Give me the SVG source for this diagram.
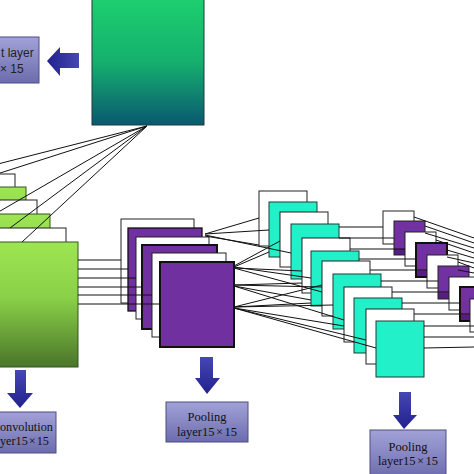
<svg xmlns="http://www.w3.org/2000/svg" width="474" height="474" viewBox="0 0 474 474">
<defs>
<linearGradient id="gTop" x1="0" y1="0" x2="0" y2="1"><stop offset="0" stop-color="#1dcf6f"/><stop offset="0.5" stop-color="#15b06e"/><stop offset="1" stop-color="#0a5870"/></linearGradient>
<linearGradient id="gGreen" x1="0" y1="0" x2="0" y2="1"><stop offset="0" stop-color="#9ee552"/><stop offset="0.45" stop-color="#8ad048"/><stop offset="1" stop-color="#4a752a"/></linearGradient>
<linearGradient id="gBox" x1="0" y1="0" x2="0" y2="1"><stop offset="0" stop-color="#a2a2d8"/><stop offset="1" stop-color="#6c6cae"/></linearGradient>
<linearGradient id="gArrow" x1="0" y1="0" x2="0" y2="1"><stop offset="0" stop-color="#4646b4"/><stop offset="1" stop-color="#22228e"/></linearGradient>
<linearGradient id="gArrowH" x1="0" y1="0" x2="1" y2="0"><stop offset="0" stop-color="#22228e"/><stop offset="1" stop-color="#4646b4"/></linearGradient>
<linearGradient id="gPur" x1="0" y1="0" x2="0" y2="1"><stop offset="0" stop-color="#7232a2"/><stop offset="0.8" stop-color="#7030a0"/><stop offset="0.84" stop-color="#561e84"/><stop offset="1" stop-color="#561e84"/></linearGradient>
</defs>
<style>
.w{fill:#ffffff;stroke:#222;stroke-width:1}
.p{fill:#7030a0;stroke:#111;stroke-width:1.3}
.pb{fill:#7030a0;stroke:#111;stroke-width:2}
.pr{fill:url(#gPur);stroke:#222;stroke-width:1}
.prb{fill:url(#gPur);stroke:#111;stroke-width:2}
.c{fill:#22f0c8;stroke:#1c3c34;stroke-width:1}
.g{fill:url(#gGreen);stroke:#35521f;stroke-width:1}
.box{fill:url(#gBox);stroke:#4c4c88;stroke-width:1}
.arr{fill:url(#gArrow)}
.ln{stroke:#111;stroke-width:1;fill:none}
.ts{font-family:"Times New Roman","Liberation Serif",serif;font-size:12.5px;fill:#111;text-anchor:middle}
.tl{font-family:"Times New Roman","Liberation Serif",serif;font-size:12.2px;fill:#111}
.ta{font-family:"Liberation Sans",Arial,sans-serif;font-size:12px;fill:#222}
</style>
<rect width="474" height="474" fill="#ffffff"/>

<g id="output-layer">
<rect x="92" y="-2" width="112" height="127" fill="url(#gTop)" stroke="#1e3a3a" stroke-width="1"/>
</g>

<g id="output-label">
<rect class="box" x="-40" y="37" width="79" height="46"/>
<text class="ta" x="1" y="57">t layer</text>
<text class="ta" x="0" y="73">× 15</text>
<polygon points="47,61 60,47 60,53 79,53 79,68 60,68 60,76" fill="url(#gArrowH)"/>
</g>

<g id="conv-stack">
<rect class="w" x="-60" y="174" width="75" height="125"/>
<rect class="g" x="-60" y="187" width="86" height="125"/>
<rect class="w" x="-60" y="200" width="97" height="125"/>
<rect class="g" x="-60" y="214" width="110" height="125"/>
<rect class="w" x="-60" y="228" width="126" height="125"/>
<rect class="g" x="-60" y="242" width="138" height="125"/>
</g>

<g id="pool1-stack">
<rect class="w" x="121" y="219" width="73" height="84"/>
<rect class="p" x="128" y="228" width="74" height="83"/>
<rect class="w" x="136" y="237" width="73" height="82"/>
<rect class="pb" x="142" y="245" width="75" height="84"/>
<rect class="w" x="152" y="253" width="74" height="84"/>
<rect class="pb" x="160" y="262" width="74" height="85"/>
</g>

<g id="conv2-stack">
<rect class="w" x="259" y="191" width="48" height="55"/>
<rect class="c" x="269" y="202" width="48" height="55"/>
<rect class="w" x="280" y="212" width="48" height="55"/>
<rect class="c" x="291" y="224" width="48" height="55"/>
<rect class="w" x="302" y="238" width="48" height="55"/>
<rect class="c" x="311" y="251" width="48" height="55"/>
<rect class="w" x="322" y="261" width="48" height="55"/>
<rect class="c" x="333" y="274" width="48" height="55"/>
<rect class="w" x="344" y="287" width="48" height="55"/>
<rect class="c" x="354" y="298" width="48" height="55"/>
<rect class="w" x="366" y="309" width="48" height="55"/>
<rect class="c" x="376" y="321" width="48" height="56"/>
</g>

<g id="pool2-stack">
<rect class="w" x="383" y="211" width="31" height="33"/>
<rect class="pr" x="394" y="221" width="31" height="34"/>
<rect class="w" x="405" y="232" width="31" height="34"/>
<rect class="prb" x="416" y="243" width="31" height="34"/>
<rect class="w" x="427" y="255" width="31" height="33"/>
<rect class="pr" x="438" y="266" width="31" height="33"/>
<rect class="w" x="449" y="277" width="31" height="33"/>
<rect class="prb" x="460" y="287" width="31" height="34"/>
<rect class="w" x="470" y="299" width="31" height="33"/>
</g>

<g id="connectors" class="ln">
<line x1="147" y1="126" x2="-10" y2="166"/>
<line x1="147" y1="126" x2="-3" y2="174"/>
<line x1="147" y1="126" x2="-5" y2="214"/>
<line x1="147" y1="126" x2="10" y2="228"/>
<line x1="147" y1="126" x2="22" y2="242"/>

<line x1="78" y1="260" x2="121" y2="260"/>
<line x1="78" y1="269" x2="128" y2="269"/>
<line x1="78" y1="278" x2="136" y2="278"/>
<line x1="78" y1="287" x2="142" y2="287"/>
<line x1="78" y1="295" x2="152" y2="295"/>
<line x1="78" y1="304" x2="160" y2="304"/>

<line x1="205" y1="234" x2="259" y2="218"/>
<line x1="205" y1="234" x2="269" y2="230"/>
<line x1="205" y1="235" x2="291" y2="253"/>
<line x1="205" y1="236" x2="259" y2="245"/>
<line x1="234" y1="266" x2="280" y2="241"/>
<line x1="234" y1="267" x2="269" y2="252"/>
<line x1="234" y1="267" x2="311" y2="278"/>
<line x1="234" y1="268" x2="322" y2="292"/>
<line x1="234" y1="268" x2="302" y2="271"/>
<line x1="234" y1="285" x2="302" y2="283"/>
<line x1="234" y1="285" x2="322" y2="287"/>
<line x1="234" y1="286" x2="311" y2="300"/>
<line x1="234" y1="286" x2="344" y2="320"/>
<line x1="234" y1="307" x2="322" y2="285"/>
<line x1="234" y1="307" x2="311" y2="303"/>
<line x1="234" y1="307" x2="333" y2="305"/>
<line x1="234" y1="308" x2="344" y2="326"/>
<line x1="234" y1="308" x2="366" y2="340"/>
<line x1="234" y1="308" x2="376" y2="348"/>

<line x1="339" y1="227" x2="383" y2="227"/>
<line x1="339" y1="238" x2="394" y2="238"/>
<line x1="350" y1="249" x2="405" y2="249"/>
<line x1="359" y1="259" x2="416" y2="259"/>
<line x1="370" y1="270" x2="427" y2="270"/>
<line x1="381" y1="281" x2="438" y2="281"/>
<line x1="392" y1="292" x2="449" y2="292"/>
<line x1="402" y1="303" x2="460" y2="303"/>
<line x1="414" y1="314" x2="470" y2="314"/>
<line x1="424" y1="326" x2="474" y2="326"/>
<line x1="424" y1="337" x2="474" y2="337"/>
<line x1="424" y1="348" x2="474" y2="347"/>

<line x1="414" y1="217" x2="474" y2="238"/>
<line x1="425" y1="226" x2="474" y2="243"/>
<line x1="425" y1="233" x2="474" y2="248"/>
<line x1="436" y1="240" x2="474" y2="253"/>
<line x1="447" y1="250" x2="474" y2="258"/>
<line x1="447" y1="257" x2="474" y2="263"/>
<line x1="458" y1="262" x2="474" y2="268"/>
<line x1="458" y1="270" x2="474" y2="273"/>
</g>

<g id="conv-label">
<polygon class="arr" points="15,370 26,370 26,393 33,393 20,408 7,393 15,393"/>
<rect class="box" x="-14" y="412" width="70" height="41"/>
<text class="tl" x="0" y="431">onvolution</text>
<text class="tl" x="0" y="445">yer15<tspan dx="1">×</tspan><tspan dx="1">15</tspan></text>
</g>

<g id="pool1-label">
<polygon class="arr" points="200,357 213,357 213,378 220,378 207,394 195,378 200,378"/>
<rect class="box" x="166" y="402" width="82" height="40"/>
<text class="ts" x="207" y="421">Pooling</text>
<text class="ts" x="207" y="436">layer15<tspan dx="1.5">×</tspan><tspan dx="1.5">15</tspan></text>
</g>

<g id="pool2-label">
<polygon class="arr" points="399,392 411,392 411,415 417,415 404,429 393,415 399,415"/>
<rect class="box" x="370" y="430" width="76" height="48"/>
<text class="ts" x="408" y="451">Pooling</text>
<text class="ts" x="408" y="465">layer15<tspan dx="1.5">×</tspan><tspan dx="1.5">15</tspan></text>
</g>
</svg>
